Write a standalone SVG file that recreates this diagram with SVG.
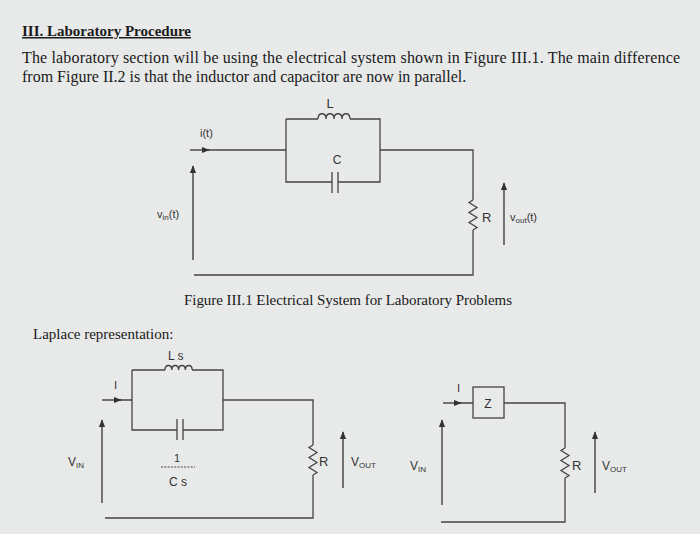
<svg xmlns="http://www.w3.org/2000/svg" width="700" height="534" viewBox="0 0 700 534">
<defs>
<marker id="ah" viewBox="0 0 10 10" refX="9" refY="5" markerWidth="6" markerHeight="6" orient="auto"><path d="M0,1 L10,5 L0,9 z" fill="#333"/></marker>
<style>
.w{fill:none;stroke:#444;stroke-width:1.3}
.a{fill:none;stroke:#333;stroke-width:1.3;marker-end:url(#ah)}
.s{font-family:"Liberation Sans",Arial,sans-serif;fill:#333}
.t{font-family:"Liberation Serif","Times New Roman",serif;fill:#1a1a1a}
</style>
</defs>
<rect width="700" height="534" fill="#e8e9e9"/>
<text class="t" x="22" y="36" font-size="15" font-weight="bold" text-decoration="underline">III. Laboratory Procedure</text>
<text class="t" x="22" y="63" font-size="16" textLength="658">The laboratory section will be using the electrical system shown in Figure III.1.  The main difference</text>
<text class="t" x="22" y="82" font-size="16">from Figure II.2 is that the inductor and capacitor are now in parallel.</text>

<g id="connectors">
<path class="w" d="M208,150 H286 M286,119 H318 M350,119 H380 V182 H338 M332,182 H286 V119 M380,150 H473 V200 M473,230 V275 H194"/>
<path class="w" d="M318,119 c0,-7 8,-7 8,0 c0,-7 8,-7 8,0 c0,-7 8,-7 8,0 c0,-7 8,-7 8,0"/>
<path class="w" d="M332,172 V193 M338,172 V193"/>
<path class="w" d="M473,200 l-4,2.5 l8,5 l-8,5 l8,5 l-8,5 l8,5 l-4,2.5"/>
<path class="a" d="M190,150 H209"/>
<path class="a" d="M193,260 V166"/>
<path class="a" d="M504,245 V183"/>
<path class="w" d="M120,400 H132 M132,370 H165 M192,370 H223 V430 H183 M177,430 H132 V370 M223,400 H313 V445 M313,475 V518 H105"/>
<path class="w" d="M165,370 c0,-6 6.8,-6 6.8,0 c0,-6 6.8,-6 6.8,0 c0,-6 6.8,-6 6.8,0 c0,-6 6.8,-6 6.8,0"/>
<path class="w" d="M177,419 V440 M183,419 V440"/>
<path class="w" d="M313,445 l-4,2.5 l8,5 l-8,5 l8,5 l-8,5 l8,5 l-4,2.5"/>
<path d="M161,467 H195" stroke="#444" stroke-width="1.2" stroke-dasharray="2,1.3"/>
<path class="a" d="M102,400 H121"/>
<path class="a" d="M102,503 V420"/>
<path class="a" d="M343,488 V432"/>
<path class="w" d="M460,403 H473 M504,403 H565 V448 M565,478 V522 H441"/>
<rect x="473" y="387" width="31" height="31" class="w"/>
<path class="w" d="M565,448 l-4,2.5 l8,5 l-8,5 l8,5 l-8,5 l8,5 l-4,2.5"/>
<path class="a" d="M443,403 H461"/>
<path class="a" d="M442,505 V420"/>
<path class="a" d="M595,493 V432"/>
</g>

<g id="labels">
<text class="s" x="330" y="108" font-size="13" text-anchor="middle">L</text>
<text class="s" x="337" y="164" font-size="12" text-anchor="middle">C</text>
<text class="s" x="200" y="137" font-size="11">i(t)</text>
<text class="s" x="157" y="218" font-size="11">v<tspan font-size="8" dy="2">in</tspan><tspan dy="-2">(t)</tspan></text>
<text class="s" x="482" y="222" font-size="13">R</text>
<text class="s" x="510" y="221" font-size="11">v<tspan font-size="8" dy="2">out</tspan><tspan dy="-2">(t)</tspan></text>
<text class="t" x="184" y="305" font-size="15" textLength="328">Figure III.1 Electrical System for Laboratory Problems</text>
<text class="t" x="33" y="339" font-size="15">Laplace representation:</text>
<text class="s" x="168" y="360" font-size="12">L s</text>
<text class="s" x="114" y="389" font-size="11">I</text>
<text class="s" x="177" y="462" font-size="11" text-anchor="middle">1</text>
<text class="s" x="178" y="486" font-size="12" text-anchor="middle">C s</text>
<text class="s" x="68" y="466" font-size="12">V<tspan font-size="8" dy="2">IN</tspan></text>
<text class="s" x="319" y="466" font-size="13">R</text>
<text class="s" x="351" y="466" font-size="12">V<tspan font-size="8" dy="2">OUT</tspan></text>
<text class="s" x="457" y="392" font-size="11">I</text>
<text class="s" x="488" y="408" font-size="12" text-anchor="middle">Z</text>
<text class="s" x="410" y="470" font-size="12">V<tspan font-size="8" dy="2">IN</tspan></text>
<text class="s" x="572" y="470" font-size="13">R</text>
<text class="s" x="602" y="470" font-size="12">V<tspan font-size="8" dy="2">OUT</tspan></text>
</g>
</svg>
